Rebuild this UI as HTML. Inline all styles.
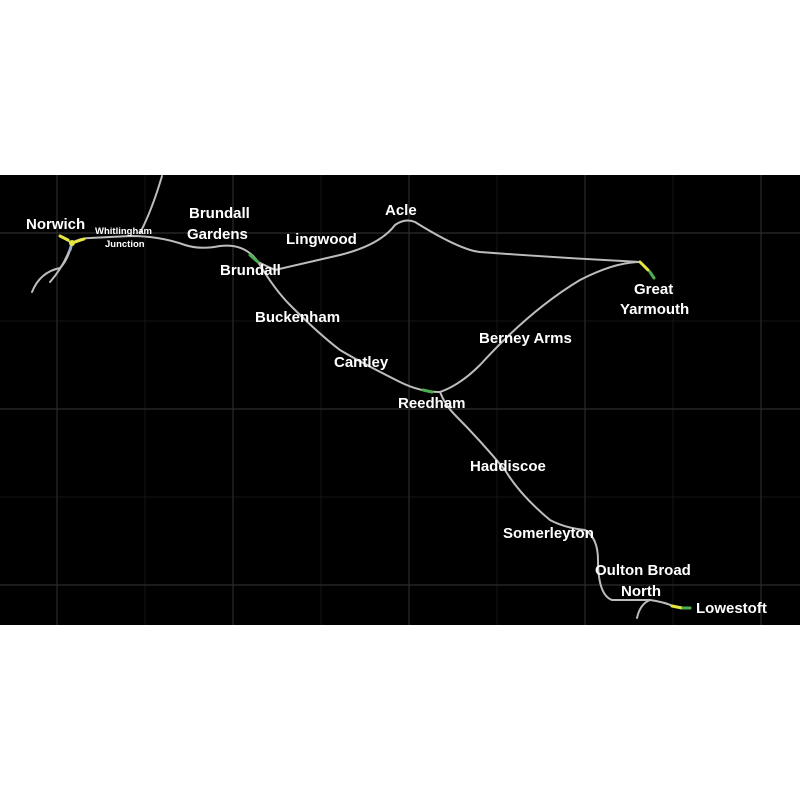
<!DOCTYPE html>
<html><head><style>
html,body{margin:0;padding:0;background:#fff;width:800px;height:800px;overflow:hidden}
svg{display:block}
text{font-family:"Liberation Sans",Arial,sans-serif;fill:#fff;font-weight:bold}
</style></head><body>
<svg width="800" height="800" viewBox="0 0 800 800">
<rect x="0" y="175" width="800" height="450" fill="#000"/>
<g stroke="#141414" stroke-width="1">
<line x1="145" y1="175" x2="145" y2="625"/><line x1="321" y1="175" x2="321" y2="625"/>
<line x1="497" y1="175" x2="497" y2="625"/><line x1="673" y1="175" x2="673" y2="625"/>
<line x1="0" y1="321" x2="800" y2="321"/><line x1="0" y1="497" x2="800" y2="497"/>
</g>
<g stroke="#2c2c2c" stroke-width="1.2">
<line x1="57" y1="175" x2="57" y2="625"/><line x1="233" y1="175" x2="233" y2="625"/>
<line x1="409" y1="175" x2="409" y2="625"/><line x1="585" y1="175" x2="585" y2="625"/>
<line x1="761" y1="175" x2="761" y2="625"/>
<line x1="0" y1="233" x2="800" y2="233"/><line x1="0" y1="409" x2="800" y2="409"/>
<line x1="0" y1="585" x2="800" y2="585"/>
</g>
<g fill="none" stroke="#bdbdbd" stroke-width="2" stroke-linecap="round">
<path d="M60,236 L72,243 Q80,238 90,238 L130,236 Q160,236 185,245 Q200,250 220,246 Q245,243 258,262 L275,270 Q310,262 340,255 Q380,245 395,225 Q405,218 415,222 Q460,250 480,252 Q560,258 640,262 Q648,268 654,278"/>
<path d="M140,233 Q152,210 162,176"/>
<path d="M72,243 Q68,260 60,268 Q40,272 32,292"/>
<path d="M72,243 Q65,265 50,282"/>
<path d="M258,262 Q275,290 290,305 Q320,335 340,350 Q360,362 400,382 Q420,392 440,392 Q460,385 480,365 Q530,310 580,280 Q615,262 640,262"/>
<path d="M440,392 Q445,405 455,415 Q480,440 505,470 Q520,495 550,520 Q565,528 585,530 Q598,538 598,560 Q598,595 612,600 L650,600 Q665,602 675,607 L690,608"/>
<path d="M650,600 Q640,604 637,618"/>
</g>
<g stroke-width="3" fill="none" stroke-linecap="round">
<path d="M60,236 L68,240" stroke="#e6e640"/>
<path d="M72,243 L70,250" stroke="#8fb4d8"/>
<path d="M72,243 L84,239" stroke="#e6e640"/>
<path d="M250,255 L258,262" stroke="#4caf50"/>
<path d="M640,262 L648,270" stroke="#e6e640"/>
<path d="M650,272 L654,278" stroke="#4caf50"/>
<path d="M423,390 L432,392" stroke="#4caf50"/>
<path d="M672,606 L682,608" stroke="#e6e640"/>
<path d="M683,608 L690,608" stroke="#4caf50"/>
</g>
<circle cx="72" cy="243" r="3" fill="#e6e640"/>
<g font-size="15">
<text x="26" y="229">Norwich</text>
<text x="189" y="218">Brundall</text>
<text x="187" y="239">Gardens</text>
<text x="220" y="275">Brundall</text>
<text x="286" y="244">Lingwood</text>
<text x="385" y="215">Acle</text>
<text x="255" y="322">Buckenham</text>
<text x="334" y="367">Cantley</text>
<text x="479" y="343">Berney Arms</text>
<text x="398" y="408">Reedham</text>
<text x="634" y="294">Great</text>
<text x="620" y="314">Yarmouth</text>
<text x="470" y="471">Haddiscoe</text>
<text x="503" y="538">Somerleyton</text>
<text x="595" y="575">Oulton Broad</text>
<text x="621" y="596">North</text>
<text x="696" y="613">Lowestoft</text>
</g>
<g font-size="9.5">
<text x="95" y="234">Whitlingham</text>
<text x="105" y="247">Junction</text>
</g>
</svg>
</body></html>
